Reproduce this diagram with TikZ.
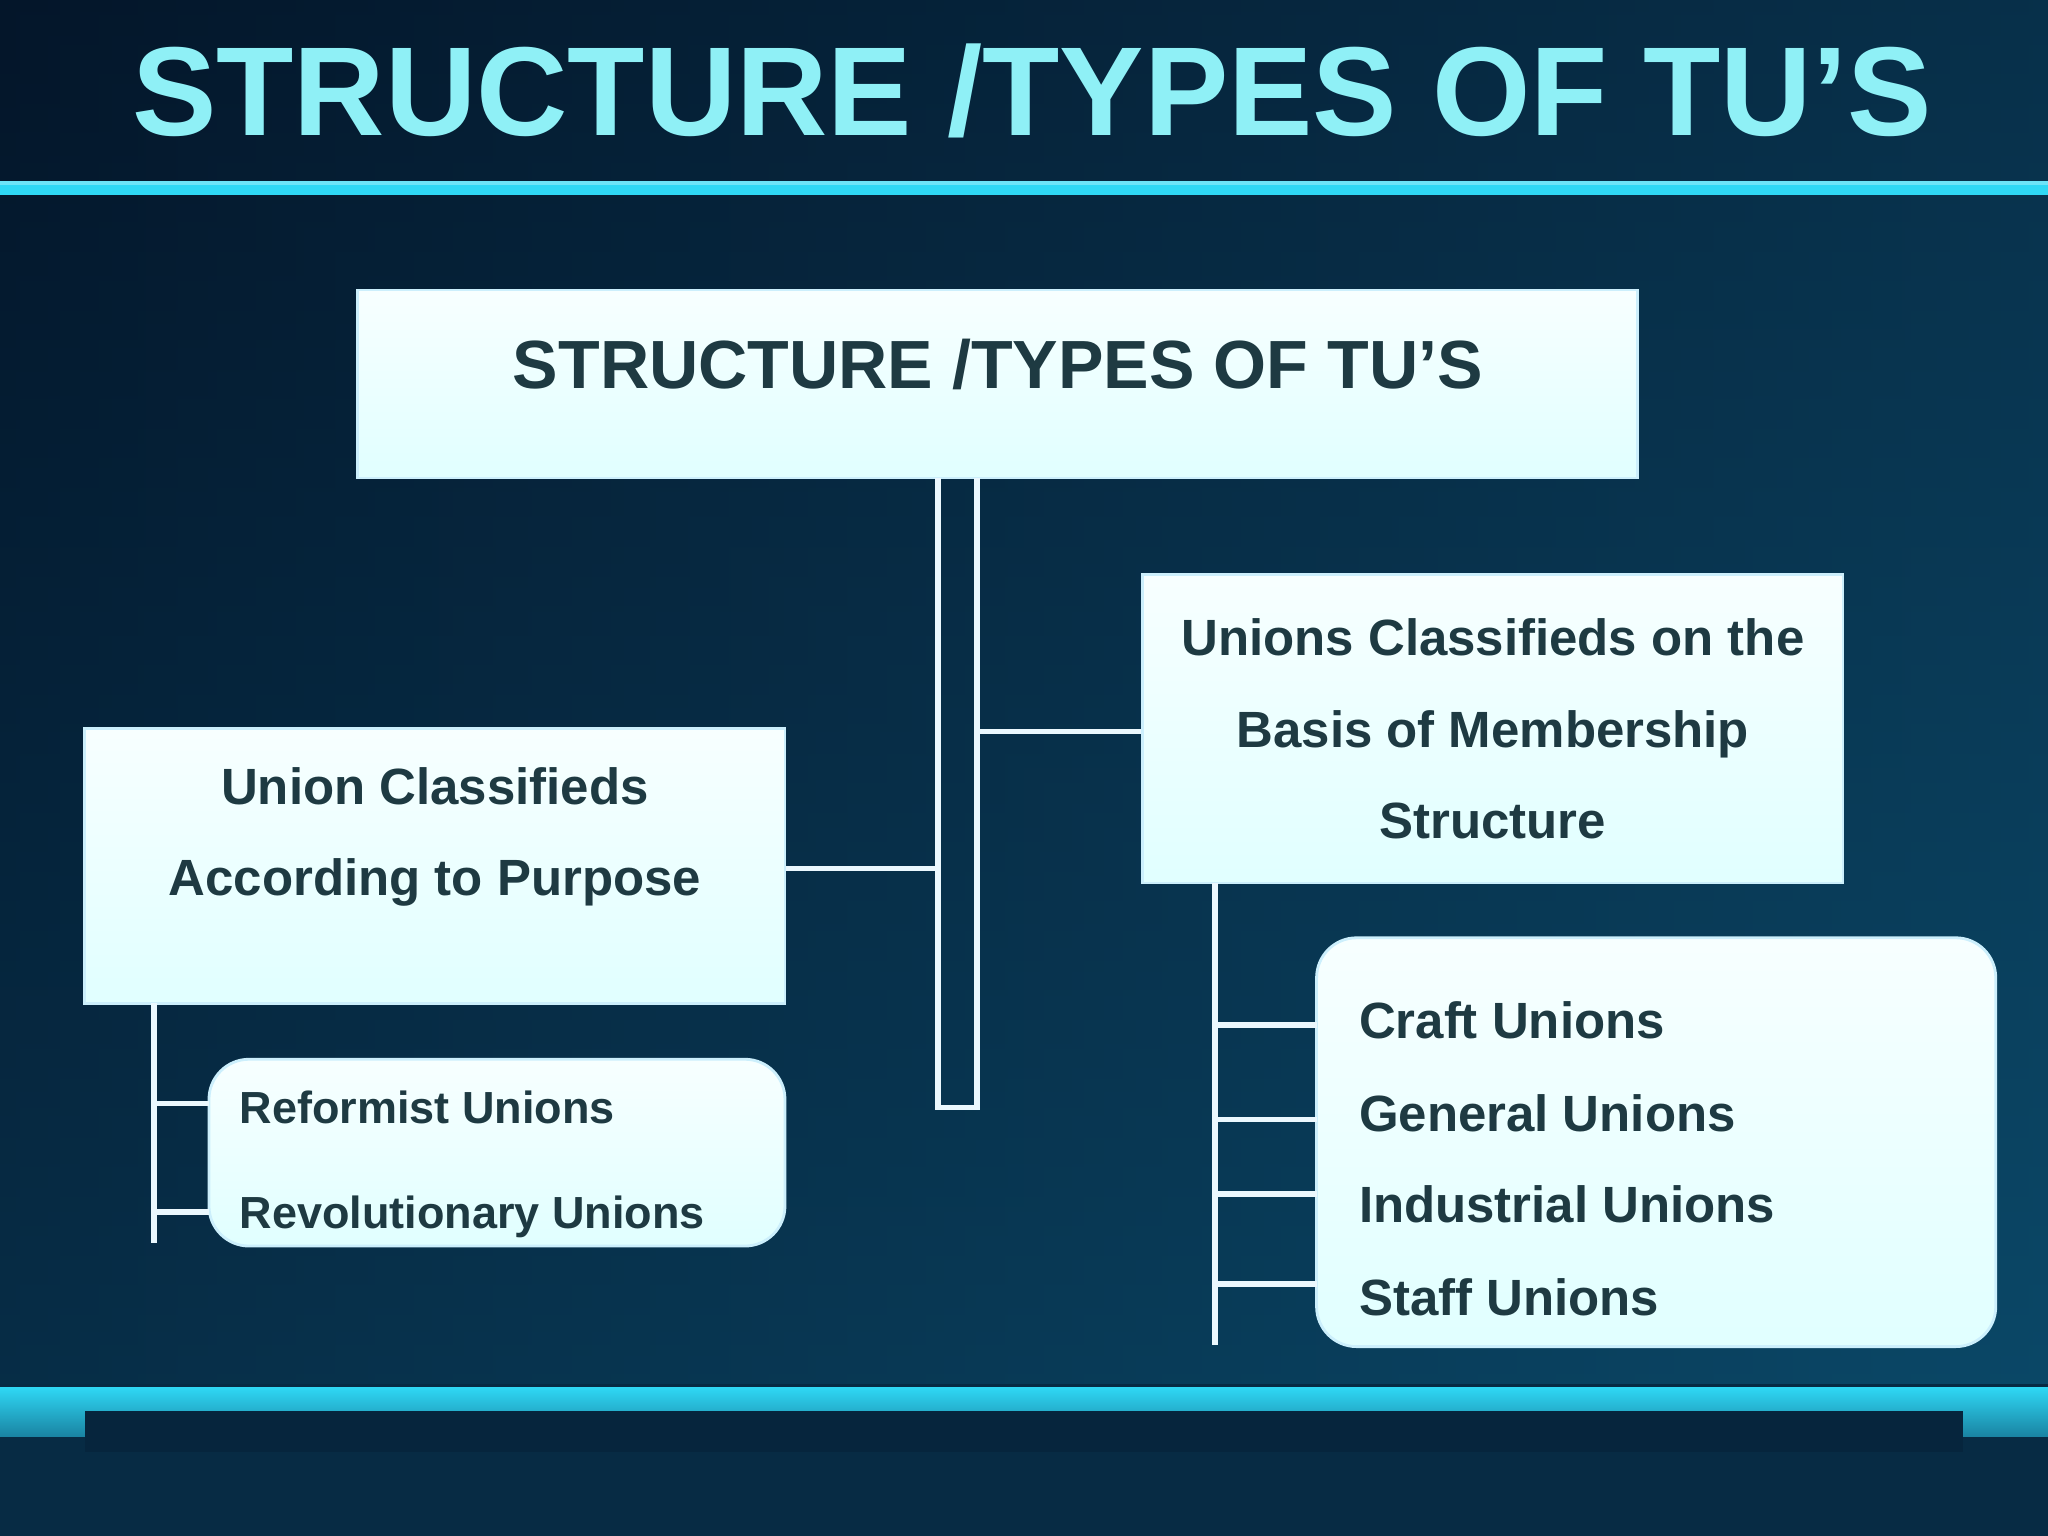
\documentclass[tikz,border=0pt]{standalone}
\usepackage{fontspec}
\setmainfont{Liberation Sans}
\definecolor{txt}{HTML}{1E3A42}
\definecolor{bgA}{HTML}{04162A}
\definecolor{bgB}{HTML}{0B4A6A}
\definecolor{cy}{HTML}{2FD8F5}
\definecolor{titlec}{HTML}{8FF0F6}
\begin{document}
\begin{tikzpicture}[x=0.013061cm,y=-0.013061cm,
  box/.style={draw=white!80!cyan,line width=0.8pt,top color=white!97!cyan,bottom color=cyan!12,text=txt,font=\bfseries,align=center,inner sep=0pt},
  rbox/.style={box,rounded corners=0.4cm},
  conn/.style={draw=white!92!cyan,line width=1.6pt},
  lbl/.style={anchor=west,text=txt,inner sep=0pt}]
\useasboundingbox (0,0) rectangle (1568,1176);
\shade[top color=bgA,bottom color=bgB] (0,0) rectangle (1568,1176);
\shade[left color=bgA,right color=bgB,opacity=0.5] (0,0) rectangle (1568,1176);
\fill[bgA!60!bgB] (0,1060) rectangle (1568,1176);
\shade[top color=cy,bottom color=cy!40!bgB] (0,1062) rectangle (1568,1100);
\fill[bgA!70!bgB] (65,1080) rectangle (1503,1112);
\draw[cy,line width=3pt] (0,145) -- (1568,145);
\draw[cy!70!white,line width=1pt] (0,140) -- (1568,140);
\node[text=titlec,font=\fontsize{36}{40}\selectfont\bfseries] (title) at (790,70) {STRUCTURE /TYPES OF TU’S};
\node[box,minimum width=980*0.013061cm,minimum height=144*0.013061cm,font=\fontsize{19.4}{24}\selectfont\bfseries] (top) at (764,294) {\raisebox{0.4cm}{STRUCTURE /TYPES OF TU’S}};
\node[box,minimum width=536*0.013061cm,minimum height=210*0.013061cm] (left) at (333,663) {};
\node[text=txt,align=center,inner sep=0pt,font=\fontsize{14.5}{26}\selectfont\bfseries] (lefttxt) at (333,641) {Union Classifieds\\According to Purpose};
\node[box,minimum width=536*0.013061cm,minimum height=236*0.013061cm,font=\fontsize{14.5}{26}\selectfont\bfseries] (right) at (1143,558) {\begin{tabular}{c}Unions Classifieds on the\\Basis of Membership\\Structure\end{tabular}};
\node[rbox,minimum width=441*0.013061cm,minimum height=143*0.013061cm] (sl) at (380.5,882.5) {};
\node[lbl,font=\fontsize{12.8}{15}\selectfont\bfseries] (ref) at (183,848) {Reformist Unions};
\node[lbl,font=\fontsize{12.8}{15}\selectfont\bfseries] (rev) at (183,932) {Revolutionary Unions};
\node[rbox,minimum width=520*0.013061cm,minimum height=313*0.013061cm] (sr) at (1268,874.5) {};
\foreach \n/\t/\y in {c/Craft Unions/781,g/General Unions/852,i/Industrial Unions/922,s/Staff Unions/993}
  \node[lbl,font=\fontsize{14.5}{17}\selectfont\bfseries] (\n) at (1040,\y) {\t};
\coordinate (a1) at (718,366); \coordinate (a2) at (718,848);
\coordinate (b1) at (748,366); \coordinate (b2) at (748,848);
\draw[conn] (a1) -- (a2) -- (b2) -- (b1);
\draw[conn] (748,560) -- (right.west |- 0,560);
\draw[conn] (left.east |- 0,665) -- (718,665);
\draw[conn] (118,768) -- (118,952);
\foreach \y in {845,928} \draw[conn] (118,\y) -- (160,\y);
\draw[conn] (930,676) -- (930,1030);
\foreach \y in {785,857,914,983} \draw[conn] (930,\y) -- (1008,\y);
\end{tikzpicture}
\end{document}
